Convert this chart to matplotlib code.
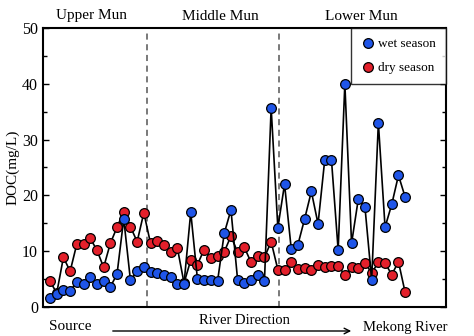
import matplotlib
matplotlib.use("Agg")
import matplotlib.pyplot as plt

# DOC (mg/L) by sampling site, upstream -> downstream
wet_season = [1.7, 2.4, 3.0, 2.9, 4.5, 4.2, 5.3, 4.1, 4.7, 3.6, 5.9, 15.8,
              4.8, 6.4, 7.1, 6.3, 6.1, 5.7, 5.3, 4.2, 4.2, 17.0, 5.0, 4.8,
              4.8, 4.6, 13.2, 17.4, 4.8, 4.3, 4.8, 5.8, 4.6, 35.7, 14.2, 22.0,
              10.4, 11.2, 15.8, 20.7, 14.9, 26.4, 26.4, 10.2, 40.0, 11.4, 19.3, 17.9,
              4.9, 33.0, 14.3, 18.4, 23.6, 19.7]
dry_season = [4.6, 2.5, 8.9, 6.4, 11.3, 11.3, 12.3, 10.2, 7.1, 11.4, 14.3, 17.1,
              14.4, 11.7, 16.9, 11.4, 11.8, 11.1, 9.8, 10.6, 4.3, 8.4, 7.6, 10.3,
              8.7, 9.2, 9.9, 12.7, 9.8, 10.7, 8.0, 9.2, 8.9, 11.7, 6.7, 6.6,
              8.0, 6.8, 6.9, 6.6, 7.5, 7.2, 7.4, 7.4, 5.7, 7.1, 7.0, 7.9,
              6.1, 8.0, 7.9, 5.8, 8.1, 2.6]
sites = list(range(len(wet_season)))
reach_bounds = [14.4, 34.1]
reach_names = ["Upper Mun", "Middle Mun", "Lower Mun"]

plt.rcParams["font.family"] = ["Liberation Serif", "DejaVu Serif"]

fig = plt.figure(figsize=(4.74, 3.36), dpi=100)
ax = fig.add_axes([0.0907, 0.0863, 0.8503, 0.8304])

for b in reach_bounds:
    ax.axvline(b, color="#555555", ls=(0, (4, 3)), lw=1.1, zorder=1)

ax.plot(sites, dry_season, "-o", color="black", lw=1.2, ms=7,
        mfc="#E3202B", mec="black", mew=0.9, label="dry season", zorder=2)
ax.plot(sites, wet_season, "-o", color="black", lw=1.2, ms=7,
        mfc="#1F55E8", mec="black", mew=0.9, label="wet season", zorder=3)

ax.set_xlim(-1.05, 59.1)
ax.set_ylim(0, 50)
ax.set_xticks([])
ax.set_yticks(range(0, 51, 10))
ax.set_yticks(range(5, 50, 10), minor=True)
ax.tick_params(axis="y", which="both", direction="in", right=True,
               labelsize=11.5, length=4, width=1)
ax.tick_params(axis="y", which="minor", length=3)
for s in ax.spines.values():
    s.set_linewidth(1.5)
ax.set_ylabel("DOC(mg/L)", fontsize=11, labelpad=2)

handles, labels = ax.get_legend_handles_labels()
leg = ax.legend(handles[::-1], labels[::-1], loc="upper right",
                fontsize=9.5, frameon=True, fancybox=False,
                edgecolor="black", handletextpad=0.2, handlelength=1.1,
                borderaxespad=0, borderpad=0.75, labelspacing=0.9)
leg.get_frame().set_linewidth(1.0)
for h in leg.get_lines():
    h.set_linestyle("none")

tx = [92, 220, 361]
for name, x in zip(reach_names, tx):
    fig.text(x / 474, 1 - 16 / 336, name, ha="center", va="center", fontsize=11)

fig.text(70 / 474, 1 - 326 / 336, "Source", ha="center", va="center", fontsize=11)
fig.text(244 / 474, 1 - 320 / 336, "River Direction", ha="center", va="center", fontsize=10.5)
fig.text(405 / 474, 1 - 327 / 336, "Mekong River", ha="center", va="center", fontsize=10.5)
fig.add_artist(matplotlib.patches.FancyArrowPatch(
    (110 / 474, 1 - 331 / 336), (354 / 474, 1 - 331 / 336),
    transform=fig.transFigure, arrowstyle="->", mutation_scale=10,
    color="black", lw=1.0))

fig.savefig("out.png", dpi=100)
